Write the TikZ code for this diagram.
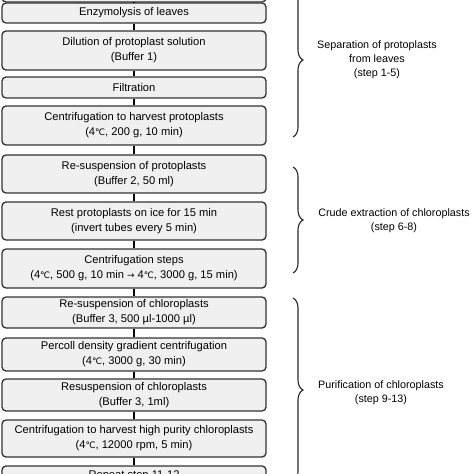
\documentclass[tikz,border=0pt]{standalone}
\usepackage{fontspec}
\setmainfont{Liberation Sans}
\newfontfamily\symfont[Scale=0.8]{DejaVu Sans}
\usetikzlibrary{decorations.pathreplacing}
\newcommand{\degc}{{\symfont ℃}}
\newcommand{\arr}{{\symfont →}}

\tikzset{
  stepbox/.style={draw=black!80, line width=1.3bp, fill=black!6, rounded corners=4bp,
    minimum width=264bp, inner sep=0pt, align=center, font=\fontsize{11.2}{15}\selectfont},
  link/.style={line width=1.8bp, black},
  phase/.style={decorate, decoration={brace, amplitude=10bp}, line width=1.1bp, black!85},
  phasetext/.style={align=center, font=\fontsize{10.8}{14}\selectfont}
}

\begin{document}
\begin{tikzpicture}[x=1bp, y=-1bp]
    \useasboundingbox (0,0) rectangle (474,474);

    % left column of steps
    \node[stepbox, minimum height=20bp] (prev) at (134,-8) {};
    \node[stepbox, minimum height=20bp] (enzym) at (134,13) {Enzymolysis of leaves};
    \node[stepbox, minimum height=39bp] (dilut) at (134,50.5) {Dilution of protoplast solution\\(Buffer 1)};
    \node[stepbox, minimum height=21bp] (filtr) at (134,87.5) {Filtration};
    \node[stepbox, minimum height=39bp] (harvp) at (134,125.5) {Centrifugation to harvest protoplasts\\(4\degc, 200 g, 10 min)};

    \node[stepbox, minimum height=38bp] (resusp) at (134,174) {Re-suspension of protoplasts\\(Buffer 2, 50 ml)};
    \node[stepbox, minimum height=38bp] (onice) at (134,221) {Rest protoplasts on ice for 15 min\\(invert tubes every 5 min)};
    \node[stepbox, minimum height=39bp] (centr) at (134,268.5) {Centrifugation steps\\(4\degc, 500 g, 10 min \arr{} 4\degc, 3000 g, 15 min)};

    \node[stepbox, minimum height=31bp] (resuch) at (134,312.5) {Re-suspension of chloroplasts\\(Buffer 3, 500 µl-1000 µl)};
    \node[stepbox, minimum height=33bp] (percoll) at (134,354.5) {Percoll density gradient centrifugation\\(4\degc, 3000 g, 30 min)};
    \node[stepbox, minimum height=32bp] (resuch2) at (134,395) {Resuspension of chloroplasts\\(Buffer 3, 1ml)};
    \node[stepbox, minimum height=37bp] (harvc) at (134,438.5) {Centrifugation to harvest high purity chloroplasts\\(4\degc, 12000 rpm, 5 min)};
    \node[stepbox, minimum height=20bp] (repeat) at (134,476) {Repeat step 11-12};

    % connectors
    \draw[link] (prev) -- (enzym);
    \draw[link] (enzym) -- (dilut);
    \draw[link] (dilut) -- (filtr);
    \draw[link] (filtr) -- (harvp);
    \draw[link] (harvp) -- (resusp);
    \draw[link] (resusp) -- (onice);
    \draw[link] (onice) -- (centr);
    \draw[link] (centr) -- (resuch);
    \draw[link] (resuch) -- (percoll);
    \draw[link] (percoll) -- (resuch2);
    \draw[link] (resuch2) -- (harvc);
    \draw[link] (harvc) -- (repeat);

    % phases
    \coordinate (sepA) at (293,-17);
    \coordinate (sepB) at (293,137);
    \draw[phase] (sepA) -- (sepB);
    \node[phasetext] (sep) at (377,60) {Separation of protoplasts\\from leaves\\(step 1-5)};

    \coordinate (crudeA) at (293,167);
    \coordinate (crudeB) at (293,273);
    \draw[phase] (crudeA) -- (crudeB);
    \node[phasetext] (crude) at (394,221) {Crude extraction of chloroplasts\\(step 6-8)};

    \coordinate (purA) at (293,298);
    \coordinate (purB) at (293,482);
    \draw[phase] (purA) -- (purB);
    \node[phasetext] (pur) at (381,393) {Purification of chloroplasts\\(step 9-13)};

\end{tikzpicture}
\end{document}
